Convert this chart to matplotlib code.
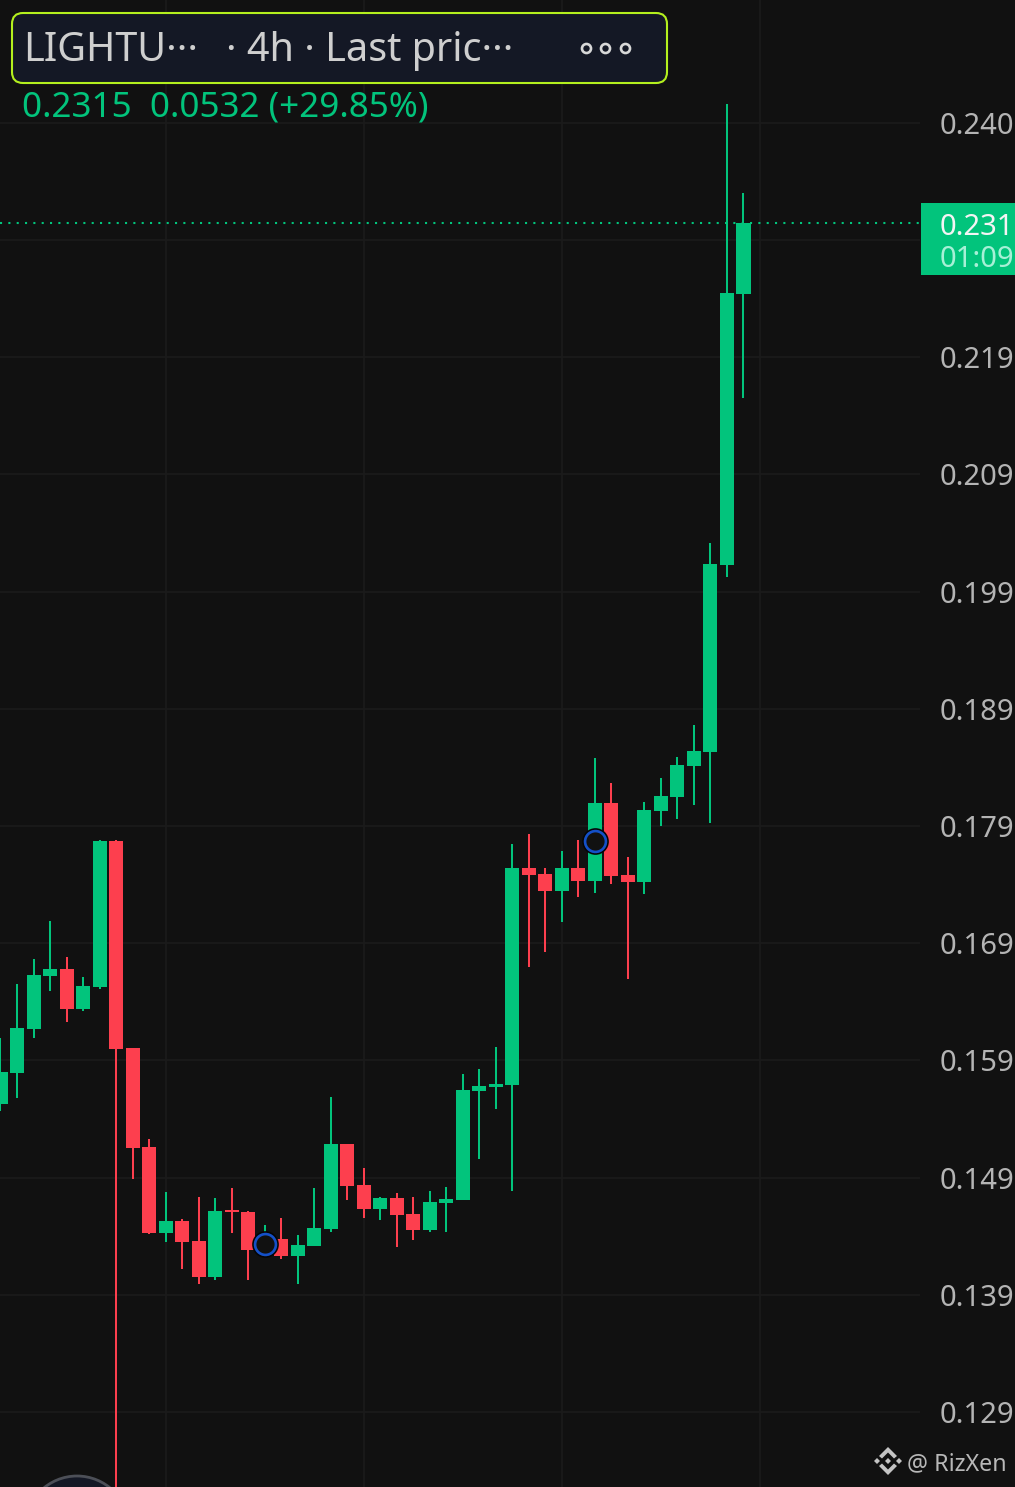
#!/usr/bin/env python

import matplotlib
matplotlib.use("Agg")
import matplotlib.pyplot as plt
from matplotlib.patches import Circle, FancyBboxPatch, Polygon, Rectangle
import numpy as np

plt.rcParams['font.family'] = ['Noto Sans', 'DejaVu Sans']

opens = [.15628, .15892, .16268, .16720, .16780, .16438, .16626, .17872, .16106, .15261,
         .14527, .14630, .14459, .14152, .14723, .14706, .14391, .14476, .14331, .14416,
         .14561, .15287, .14937, .14732, .14826, .14689, .14553, .14783, .14809, .15739,
         .15773, .15790, .17641, .17590, .17445, .17641, .17531, .18196, .17582, .17522,
         .18128, .18247, .18512, .18631, .20227, .22539]
highs = [.16191, .16652, .16865, .17189, .16882, .16711, .17880, .17880, .16106, .15329,
         .14877, .14647, .14834, .14826, .14911, .14715, .14595, .14655, .14510, .14911,
         .15688, .15287, .15082, .14834, .14869, .14834, .14886, .14920, .15884, .15926,
         .16114, .17846, .17932, .17641, .17786, .17880, .18580, .18367, .17735, .18205,
         .18409, .18588, .18862, .20414, .24160, .23401]
lows = [.15568, .15679, .16191, .16592, .16327, .16421, .16609, .12300, .14988, .14519,
        .14450, .14220, .14092, .14126, .14527, .14126, .14348, .14305, .14092, .14416,
        .14536, .14809, .14655, .14638, .14408, .14468, .14536, .14536, .14809, .15159,
        .15585, .14886, .16797, .16925, .17181, .17394, .17428, .17505, .16694, .17420,
        .18000, .18059, .18179, .18025, .20124, .21652]
closes = [.15901, .16276, .16729, .16780, .16438, .16635, .17872, .16097, .15252, .14527,
          .14630, .14450, .14152, .14715, .14706, .14382, .14459, .14331, .14425, .14570,
          .15287, .14928, .14732, .14826, .14681, .14553, .14792, .14817, .15747, .15781,
          .15798, .17641, .17582, .17445, .17641, .17531, .18196, .17573, .17522, .18136,
          .18256, .18520, .18640, .20235, .22547, .23145]

marker_idx = [16, 36]
marker_price = [.14433, .17872]

price_ticks = [.24, .23, .22, .21, .20, .19, .18, .17, .16, .15, .14, .13]
# the scale is cut at the picture edge, only the visible digits are kept
price_labels = ["0.240", "", "0.219", "0.209", "0.199", "0.189", "0.179",
                "0.169", "0.159", "0.149", "0.139", "0.129"]
time_ticks = [10, 22, 34, 46]

BG = '#111111'
GRID = '#1b1b1b'
GREEN = '#02c47c'
RED = '#fd3f4e'
PANEL = '#141825'

W, H = 1015, 1487
fig = plt.figure(figsize=(W / 100, H / 100), dpi=100, facecolor=BG)

# price pane stops where the right hand scale starts
ax = fig.add_axes([0, 0, 920 / W, 1], facecolor=BG)
ax.set_xlim(-0.03, 55.69)
ax.set_ylim(0.12360, 0.25047)
for spine in ax.spines.values():
    spine.set_visible(False)
ax.set_xticks(time_ticks)
ax.set_xticklabels([])
ax.set_yticks(price_ticks)
ax.set_yticklabels(price_labels)
ax.yaxis.tick_right()
ax.tick_params(length=0, pad=14.4, labelsize=21, labelcolor='#b4b4b4')
ax.grid(color=GRID, linestyle='-', linewidth=1.2)
ax.set_axisbelow(True)

idx = np.arange(len(opens))
o, h, l, c = (np.array(v) for v in (opens, highs, lows, closes))
colors = [GREEN if up else RED for up in c >= o]

ax.vlines(idx, l, h, colors=colors, linewidth=1.45, zorder=3)
ax.bar(idx, np.abs(c - o), bottom=np.minimum(o, c), width=0.85, color=colors,
       linewidth=0, zorder=4)

ax.axhline(closes[-1], color=GREEN, linewidth=1.5, linestyle=(0, (1.0, 3.0)), zorder=2)

# order markers, black halo then blue ring
ax.plot(marker_idx, marker_price, 'o', ms=18, mfc='#111111', mec='#050505', mew=1.2, zorder=5)
ax.plot(marker_idx, marker_price, 'o', ms=15, mfc='#111111', mec='#1450c8', mew=1.9, zorder=6)

# everything else is page furniture, laid out in pixels
ov = fig.add_axes([0, 0, 1, 1], facecolor='none')
ov.set_xlim(0, W)
ov.set_ylim(H, 0)
ov.axis('off')

ov.add_patch(FancyBboxPatch((12, 13), 655, 70, boxstyle='round,pad=0,rounding_size=11',
                            fc=PANEL, ec='#b4f01e', lw=1.5))
ov.text(23, 46, "LIGHTU\u00b7\u00b7\u00b7", fontsize=28.5, color='#cfcfcf', va='center_baseline')
ov.text(226, 46, "\u00b7 4h \u00b7 Last pric\u00b7\u00b7\u00b7", fontsize=28.5, color='#cfcfcf',
        va='center_baseline')
ov.plot([586, 605, 625], [48, 48, 48], 'o', ms=6.5, mfc='none', mec='#d8d8d8', mew=1.9)

ov.text(22, 104, "0.2315  0.0532 (+29.85%)", fontsize=25.2, color=GREEN, va='center_baseline')

ov.add_patch(Rectangle((921, 203), 94, 72, fc=GREEN, ec='none'))
ov.text(940, 224, "0.231", fontsize=21, color='#f4f4f4', va='center_baseline')
ov.text(940, 256, "01:09", fontsize=21, color='#a6f0d6', va='center_baseline')

# cut off avatar at the bottom edge
ov.add_patch(Circle((77, 1528), 52, fc=PANEL, ec='#4c4f57', lw=2))

# exchange logo
lx, ly = 888, 1461
logo = '#c4c4c4'
for dx, dy, r in [(0, 0, 3), (-11, 0, 3), (11, 0, 3)]:
    ov.add_patch(Polygon([(lx + dx - r, ly + dy), (lx + dx, ly + dy - r),
                          (lx + dx + r, ly + dy), (lx + dx, ly + dy + r)], fc=logo, ec='none'))
for s in (-1, 1):
    ov.add_patch(Polygon([(lx - 9, ly + s * 5), (lx, ly + s * 14), (lx + 9, ly + s * 5),
                          (lx + 6, ly + s * 2.5), (lx, ly + s * 8.5), (lx - 6, ly + s * 2.5)],
                         fc=logo, ec='none'))
ov.text(907, 1461, "@ RizXen", fontsize=16.8, color='#b8b8b8', va='center_baseline')

fig.savefig('out.png', dpi=100, facecolor=BG)
